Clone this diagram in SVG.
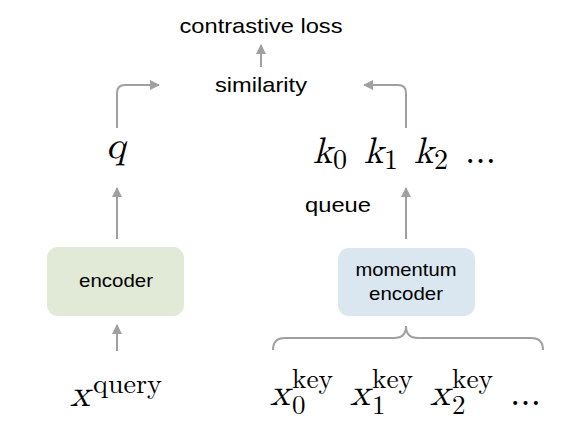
<svg xmlns="http://www.w3.org/2000/svg" width="572" height="431" viewBox="0 0 572 431">
<defs>
<marker id="ah" viewBox="0 0 10 10" refX="9" refY="5" markerWidth="10" markerHeight="10" markerUnits="userSpaceOnUse" orient="auto">
<path d="M0,0 L10,5 L0,10 Z" fill="#a0a0a0"/>
</marker>
<style>
.lbl{font-family:"Liberation Sans",Arial,sans-serif;fill:#000}
.m,.r{font-family:"Latin Modern Math","Latin Modern Roman","CMU Serif","Liberation Serif",Tinos,"Times New Roman","Nimbus Roman","Noto Serif","DejaVu Serif",FreeSerif,Georgia,serif;fill:#000}
.m{font-style:italic}
.c{fill:none;stroke:#a0a0a0;stroke-width:2}
</style>
</defs>
<rect width="572" height="431" fill="#fff"/>
<g id="connectors">
<path class="c" d="M261,67 V45" marker-end="url(#ah)"/>
<path class="c" d="M117,128 V93 Q117,85 125,85 H159" marker-end="url(#ah)"/>
<path class="c" d="M406,128 V93 Q406,85 398,85 H364" marker-end="url(#ah)"/>
<path class="c" d="M117,239 V188" marker-end="url(#ah)"/>
<path class="c" d="M117,351 V325" marker-end="url(#ah)"/>
<path class="c" d="M406,239 V188" marker-end="url(#ah)"/>
<path class="c" d="M273,350 Q273,338 285,338 H394 Q406,338 406,326 Q406,338 418,338 H531 Q543,338 543,350"/>
</g>
<g id="contrastive-loss"><text class="lbl" x="261" y="33" font-size="21" text-anchor="middle" textLength="163" lengthAdjust="spacingAndGlyphs">contrastive loss</text></g>
<g id="similarity"><text class="lbl" x="261" y="92" font-size="21" text-anchor="middle" textLength="92" lengthAdjust="spacingAndGlyphs">similarity</text></g>
<g id="q"><text class="m" x="116" y="158" font-size="38" text-anchor="middle">q</text></g>
<g id="keys">
<text class="m" x="313" y="163" font-size="37">k</text><text class="r" x="333" y="169" font-size="28">0</text>
<text class="m" x="364" y="163" font-size="37">k</text><text class="r" x="384" y="169" font-size="28">1</text>
<text class="m" x="414" y="163" font-size="37">k</text><text class="r" x="434" y="169" font-size="28">2</text>
<text class="r" x="465" y="163" font-size="37">…</text>
</g>
<g id="queue"><text class="lbl" x="338" y="212" font-size="21" text-anchor="middle" textLength="66" lengthAdjust="spacingAndGlyphs">queue</text></g>
<g id="encoder">
<rect x="47" y="247" width="137" height="69" rx="11" fill="#e0ead6"/>
<text class="lbl" x="116" y="287" font-size="19" text-anchor="middle" textLength="74" lengthAdjust="spacingAndGlyphs">encoder</text>
</g>
<g id="momentum-encoder">
<rect x="338" y="248" width="137" height="68" rx="11" fill="#dae6f0"/>
<text class="lbl" x="406" y="276" font-size="19" text-anchor="middle" textLength="101" lengthAdjust="spacingAndGlyphs">momentum</text>
<text class="lbl" x="406" y="300" font-size="19" text-anchor="middle" textLength="74" lengthAdjust="spacingAndGlyphs">encoder</text>
</g>
<g id="x-query">
<text class="m" x="70" y="406" font-size="38">x</text><text class="r" x="93" y="393" font-size="28" textLength="69" lengthAdjust="spacingAndGlyphs">query</text>
</g>
<g id="x-keys">
<text class="m" x="270" y="405" font-size="38">x</text><text class="r" x="292" y="388" font-size="28" textLength="41" lengthAdjust="spacingAndGlyphs">key</text><text class="r" x="292" y="414" font-size="27">0</text>
<text class="m" x="350" y="405" font-size="38">x</text><text class="r" x="372" y="388" font-size="28" textLength="41" lengthAdjust="spacingAndGlyphs">key</text><text class="r" x="372" y="414" font-size="27">1</text>
<text class="m" x="430" y="405" font-size="38">x</text><text class="r" x="452" y="388" font-size="28" textLength="41" lengthAdjust="spacingAndGlyphs">key</text><text class="r" x="452" y="414" font-size="27">2</text>
<text class="r" x="510" y="405" font-size="37">…</text>
</g>
</svg>
